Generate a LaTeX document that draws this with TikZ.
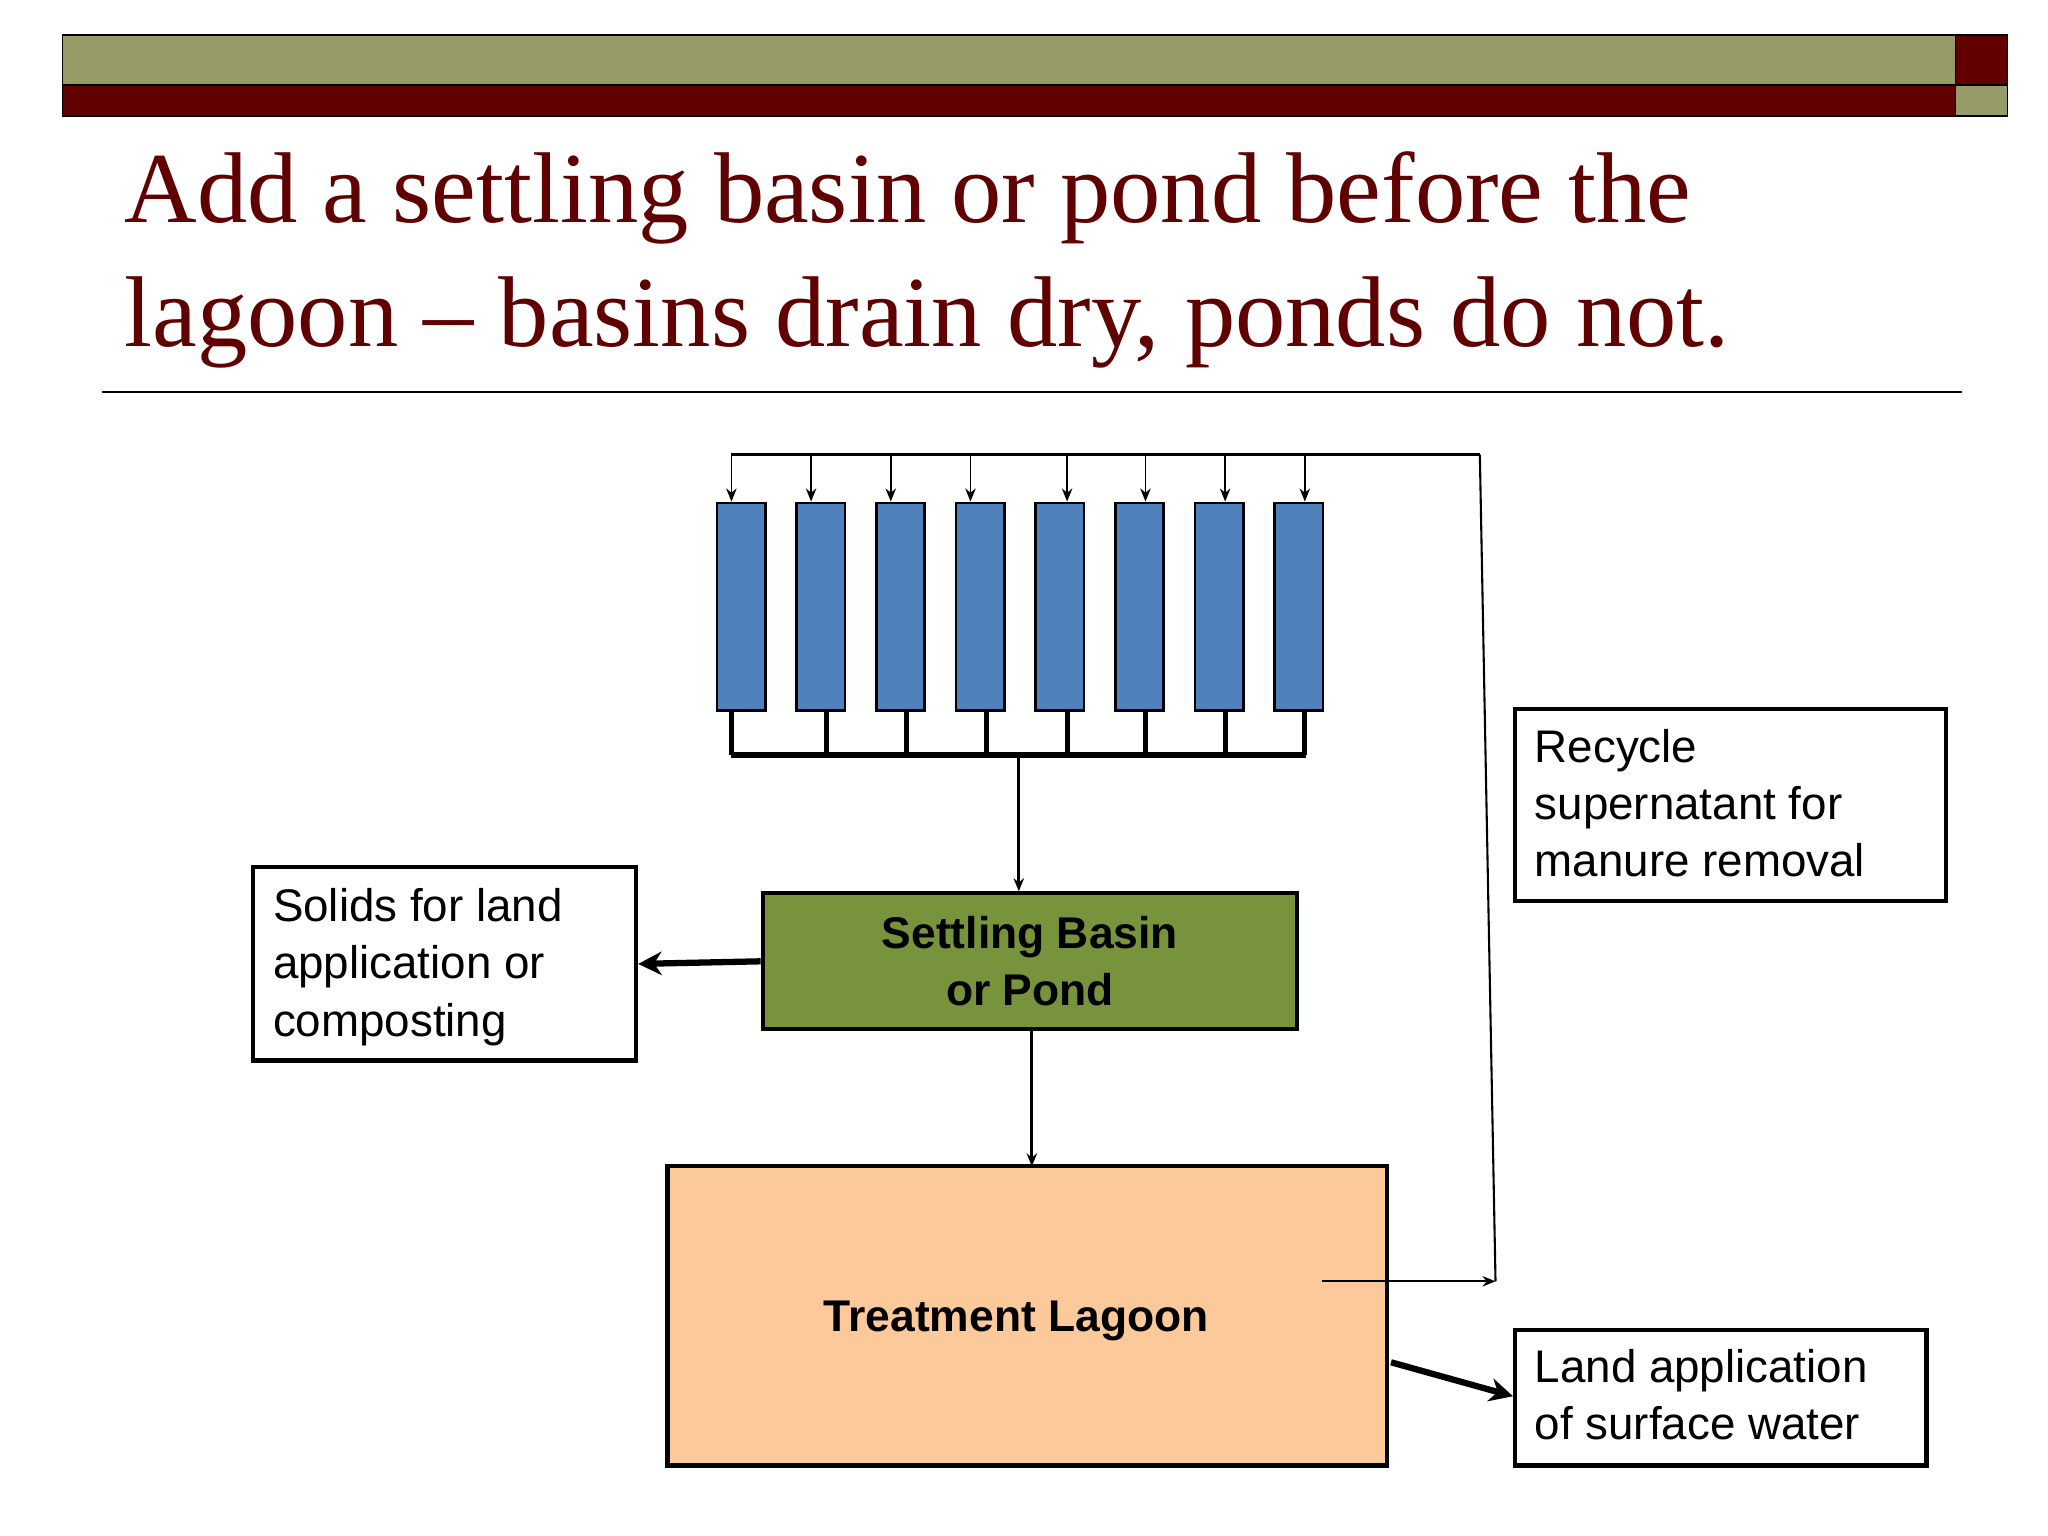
\documentclass[tikz,border=0pt]{standalone}
\usepackage{fontspec}
\setmainfont{Liberation Sans}
\newfontfamily\titlefont{Liberation Serif}
\usetikzlibrary{arrows.meta}
\definecolor{olive}{HTML}{969B68}
\definecolor{dred}{HTML}{600000}
\definecolor{bbar}{HTML}{4F81BD}
\definecolor{sgreen}{HTML}{77933C}
\definecolor{peach}{HTML}{FBC99A}
\begin{document}
\begin{tikzpicture}[x=0.5pt,y=-0.5pt,
  box/.style={draw,line width=1.6pt,inner sep=0pt},
  lbl/.style={align=left,font=\fontsize{17.5}{22}\selectfont},
  arr/.style={-{Stealth[length=5pt,width=4pt]},line width=0.6pt},
  thick arr/.style={-{Stealth[length=9pt,width=9pt]},line width=2.4pt}]
\useasboundingbox (0,0) rectangle (1568,1176);
\fill[white] (0,0) rectangle (1568,1176);
% header bars
\fill[olive] (48,27) rectangle (1497,65);
\fill[dred] (48,65) rectangle (1497,89);
\fill[dred] (1497,27) rectangle (1537,65);
\fill[olive] (1497,65) rectangle (1537,89);
\draw[line width=0.6pt] (48,27) rectangle (1537,89) (1497,27)--(1497,89) (48,65)--(1537,65);
\node[anchor=base west,inner sep=0pt,text=dred,align=left,font=\titlefont\fontsize{38.5}{48}\selectfont] (title) at (95,170) {Add a settling basin or pond before the};
\node[anchor=base west,inner sep=0pt,text=dred,align=left,font=\titlefont\fontsize{38.5}{48}\selectfont] (title2) at (95,265) {lagoon – basins drain dry, ponds do not.};
\draw[line width=0.8pt] (78,300) -- (1502,300);
% barns
\foreach \i/\x/\a/\b in {1/548/560/560,2/609/621/633,3/670/682/694,4/731/743/755,5/792/817/817,6/853/877/877,7/914/938/938,8/975/999/999}{
  \node[draw,line width=1pt,fill=bbar,minimum width=18.5pt,minimum height=79.5pt,inner sep=0pt,anchor=north west] (b\i) at (\x,384) {};
  \coordinate (t\i) at (\a,348);
  \draw[arr] (t\i) -- (\a,384);
  \draw[line width=2pt] (\b,543) -- (\b,578);
}
\coordinate (rt) at (1133,348);
\draw[line width=0.8pt] (t1) -- (rt);
\draw[line width=2.4pt] (560,578) -- (1000,578);
\coordinate (m) at (780,578);
% settling
\node[box,fill=sgreen,minimum width=204.5pt,minimum height=52pt,align=center,font=\bfseries\fontsize{17}{22}\selectfont] (set) at (788.5,736) {Settling Basin\\or Pond};
\draw[arr,line width=1.2pt] (m) -- (set.north -| m);
\node[box,minimum width=146.5pt,minimum height=74pt] (sol) at (340.5,738) {};
\node[lbl,anchor=north west] (soltxt) at (202,673) {Solids for land\\application or\\composting};
\draw[thick arr] (set.west) -- (sol.east);
% lagoon
\node[box,fill=peach,minimum width=275.5pt,minimum height=114.5pt] (lag) at (786.5,1007.5) {};
\node[font=\bfseries\fontsize{17}{22}\selectfont] (lagtxt) at (778,1011) {Treatment Lagoon};
\draw[arr,line width=1.2pt] (set.south -| 790,0) -- (790,893);
% recycle
\node[box,minimum width=165pt,minimum height=73.5pt] (rec) at (1325,616.5) {};
\node[lbl,anchor=north west] (rectxt) at (1168,551) {Recycle\\supernatant for\\manure removal};
\coordinate (rs) at (1012,981);
\coordinate (re) at (1145,981);
\draw[line width=0.8pt] (rt) -- (re);
\draw[arr,line width=0.8pt] (rs) -- (re);
% land application
\node[box,minimum width=157.5pt,minimum height=52pt] (land) at (1317.5,1070) {};
\node[lbl,anchor=north west] (landtxt) at (1168,1026) {Land application\\of surface water};
\draw[thick arr] (1065,1043) -- (land.west |- 0,1069);
\end{tikzpicture}
\end{document}
